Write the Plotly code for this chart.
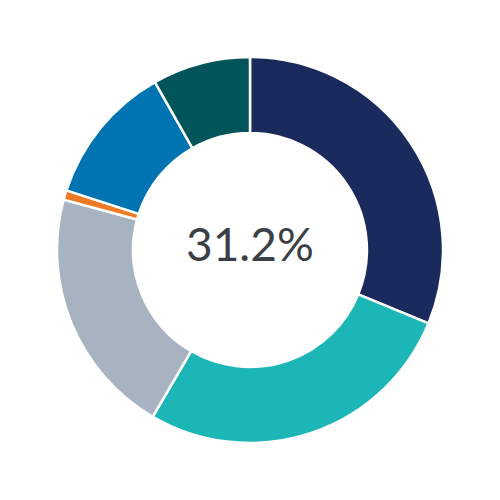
import plotly.graph_objects as go

labels = ["A", "B", "C", "D", "E", "F"]
values = [31.2, 27.2, 20.8, 0.8, 11.8, 8.2]
colors = ["#1b2a5c", "#1cb6b6", "#a8b3c2", "#ee7a26", "#0073b3", "#00545a"]
center_text = "31.2%"

fig = go.Figure(go.Pie(
    labels=labels,
    values=values,
    hole=0.606,
    sort=False,
    direction="clockwise",
    rotation=0,
    marker=dict(colors=colors, line=dict(color="white", width=2.5)),
    textinfo="none",
    hoverinfo="none",
    showlegend=False,
))
fig.add_annotation(
    text=center_text, x=0.5, y=0.5, xref="paper", yref="paper",
    showarrow=False, yshift=7,
    font=dict(family="Lato", size=46, color="#3b3f46"),
)
fig.update_layout(
    width=500, height=500,
    margin=dict(l=49, r=65, t=49, b=65),
    paper_bgcolor="white", plot_bgcolor="white",
)
fig.write_html("out.html")
